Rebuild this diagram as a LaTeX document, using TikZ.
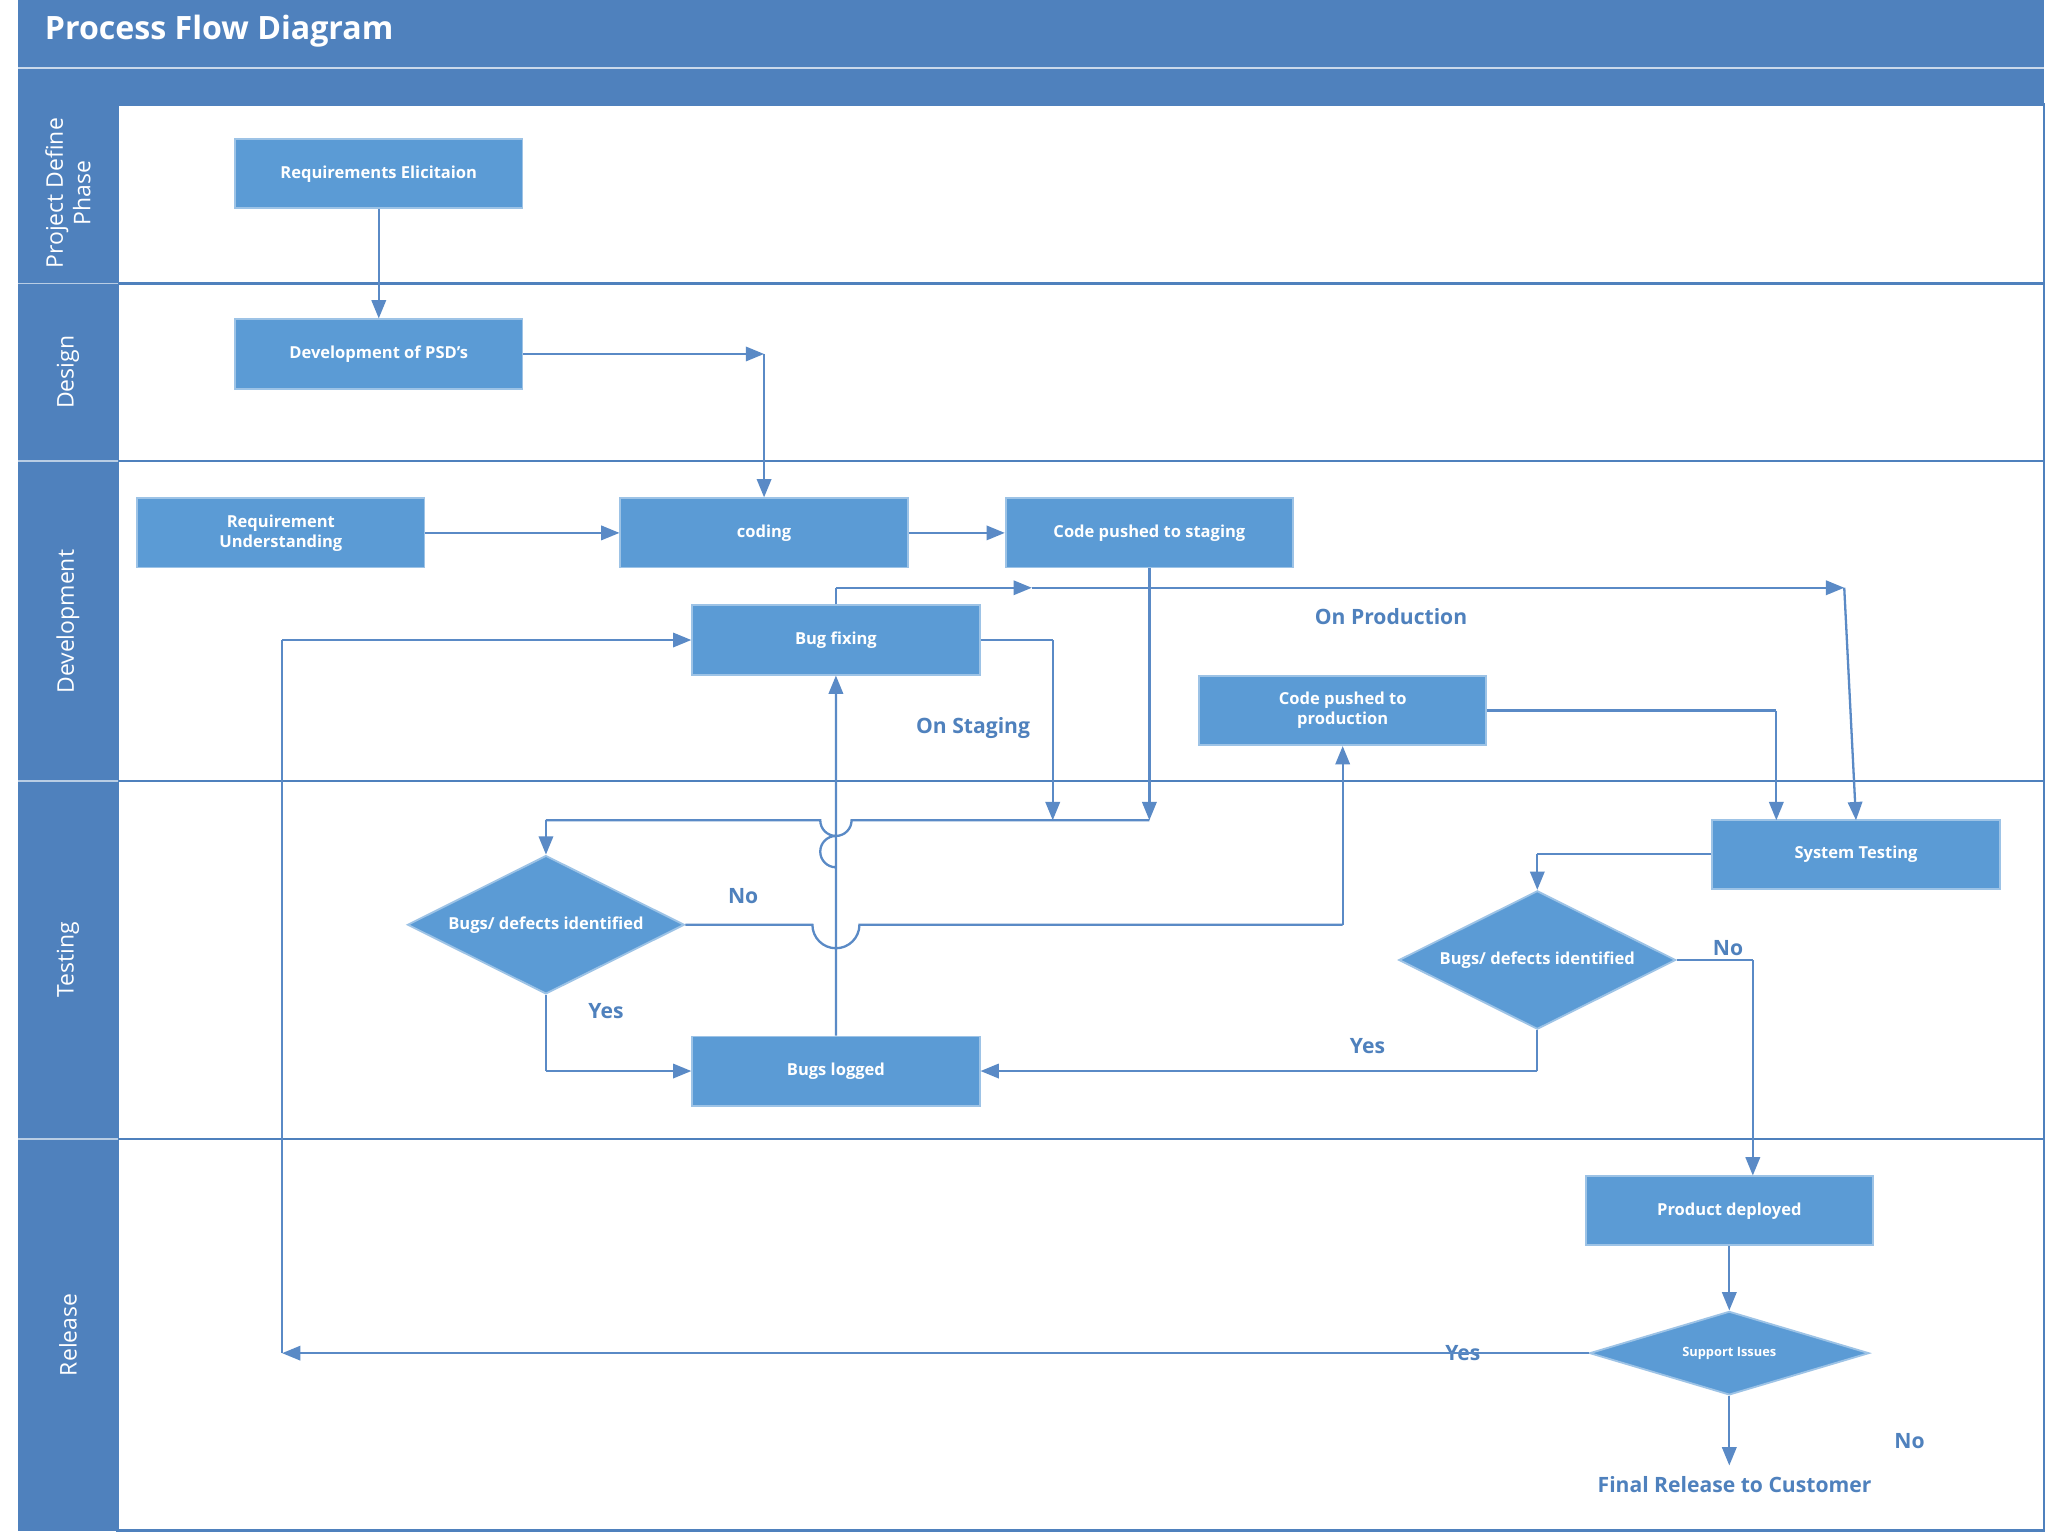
\documentclass[tikz,border=0pt]{standalone}
\usepackage{fontspec}
\setmainfont{Open Sans}
\usetikzlibrary{shapes.geometric,arrows.meta}
\definecolor{dk}{HTML}{4F81BD}
\definecolor{bx}{HTML}{5B9BD5}
\definecolor{ln}{HTML}{5A8AC6}
\begin{document}
\begin{tikzpicture}[x=0.1mm,y=-0.1mm,
 box/.style={rectangle,fill=bx,draw=bx!60!white,line width=0.4pt,minimum width=22mm,minimum height=5.3mm,text=white,font=\bfseries\fontsize{3.6}{4.4}\selectfont,align=center,inner sep=0pt},
 dia/.style={diamond,fill=bx,draw=bx!60!white,aspect=2,minimum width=21.2mm,minimum height=10.6mm,inner sep=0pt,text=white,font=\bfseries\fontsize{3.6}{4.4}\selectfont},
 lab/.style={text=dk,font=\bfseries\fontsize{4.6}{5.5}\selectfont},
 lane/.style={rotate=90,text=white,font=\fontsize{5}{6}\selectfont,align=center},
 c/.style={draw=ln,line width=0.5pt},
 a/.style={c,-{Triangle[length=1.4mm,width=1.1mm]}}]
\useasboundingbox (0,0) rectangle (1568,1176);
\fill[white] (0,0) rectangle (1568,1176);
% frame
\fill[dk] (14,0) rectangle (1565,80);
\draw[white!70!dk,line width=0.4pt] (14,52) -- (1565,52);
\node[anchor=west,text=white,font=\bfseries\fontsize{7}{8}\selectfont] (title) at (22,24) {Process Flow Diagram};
\fill[dk] (14,80) rectangle (90,1172);
\draw[dk,line width=0.6pt] (90,80) rectangle (1565,1172);
\foreach \y in {217,353,598,872} {\draw[dk,line width=0.6pt] (14,\y) -- (1565,\y);}
\foreach \y in {217,353,598,872} {\draw[white!60!dk,line width=0.3pt] (14,\y) -- (90,\y);}
\node[lane] (l1) at (52,148) {Project Define\\Phase};
\node[lane] (l2) at (52,285) {Design};
\node[lane] (l3) at (52,476) {Development};
\node[lane] (l4) at (52,735) {Testing};
\node[lane] (l5) at (52,1022) {Release};
% nodes
\node[box] (re) at (290,133) {Requirements Elicitaion};
\node[box] (psd) at (290,271) {Development of PSD's};
\node[box] (ru) at (215,408) {Requirement\\Understanding};
\node[box] (cod) at (585,408) {coding};
\node[box] (stg) at (880,408) {Code pushed to staging};
\node[box] (bf) at (640,490) {Bug fixing};
\node[box] (prod) at (1028,544) {Code pushed to\\production};
\node[box] (st) at (1421,654) {System Testing};
\node[dia] (d1) at (418,708) {Bugs/ defects identified};
\node[dia] (d2) at (1177,735) {Bugs/ defects identified};
\node[box] (bl) at (640,820) {Bugs logged};
\node[box] (pd) at (1324,927) {Product deployed};
\node[dia,minimum width=21.4mm,minimum height=6.4mm,aspect=3.3,font=\bfseries\fontsize{2.8}{3.4}\selectfont] (si) at (1324,1036) {Support Issues};
\node[lab] (fr) at (1328,1137) {Final Release to Customer};
% labels
\node[lab] (t1) at (1065,472) {On Production};
\node[lab] (t2) at (745,557) {On Staging};
\node[lab] (t3) at (569,686) {No};
\node[lab] (t4) at (464,774) {Yes};
\node[lab] (t5) at (1323,726) {No};
\node[lab] (t6) at (1047,801) {Yes};
\node[lab] (t7) at (1120,1036) {Yes};
\node[lab] (t8) at (1462,1103) {No};
\coordinate (j1) at (418,628);
\coordinate (j2) at (1028,708);
\coordinate (j3) at (216,1036);
% connectors
\draw[a] (re) -- (psd);
\draw[a] (psd.east) -- (585,271);
\draw[a] (585,271) -- (cod.north);
\draw[a] (ru) -- (cod);
\draw[a] (cod) -- (stg);
\draw[a] (stg.south) -- (880,628);
\draw[c] (880,628) -- (652,628) arc[start angle=0,end angle=180,radius=12] -- (j1);
\draw[a] (j1) -- (d1.north);
\draw[c] (bf.east) -- (806,490);
\draw[a] (806,490) -- (806,628);
\draw[a] (bl.north) -- (640,640) arc[start angle=-90,end angle=-270,radius=12] -- (bf.south);
\draw[c] (bf.north) -- (640,450);
\draw[a] (640,450) -- (790,450);
\draw[a] (790,450) -- (1412,450);
\draw[a] (1412,450) -- (1421,628);
\draw[c] (d1.east) -- (622,708) arc[start angle=180,end angle=0,radius=18] -- (j2);
\draw[a] (j2) -- (prod.south);
\draw[c] (d1.south) -- (418,820);
\draw[a] (418,820) -- (bl.west);
\draw[c] (prod.east) -- (1360,544);
\draw[a] (1360,544) -- (1360,628);
\draw[c] (st.west) -- (1177,654);
\draw[a] (1177,654) -- (d2.north);
\draw[c] (d2.east) -- (1342,735);
\draw[a] (1342,735) -- (1342,900);
\draw[c] (d2.south) -- (1177,820);
\draw[a] (1177,820) -- (bl.east);
\draw[a] (pd) -- (si);
\draw[a] (si.west) -- (j3);
\draw[c] (j3) -- (216,490);
\draw[a] (216,490) -- (bf.west);
\draw[a] (si.south) -- (1324,1122);
\end{tikzpicture}
\end{document}
